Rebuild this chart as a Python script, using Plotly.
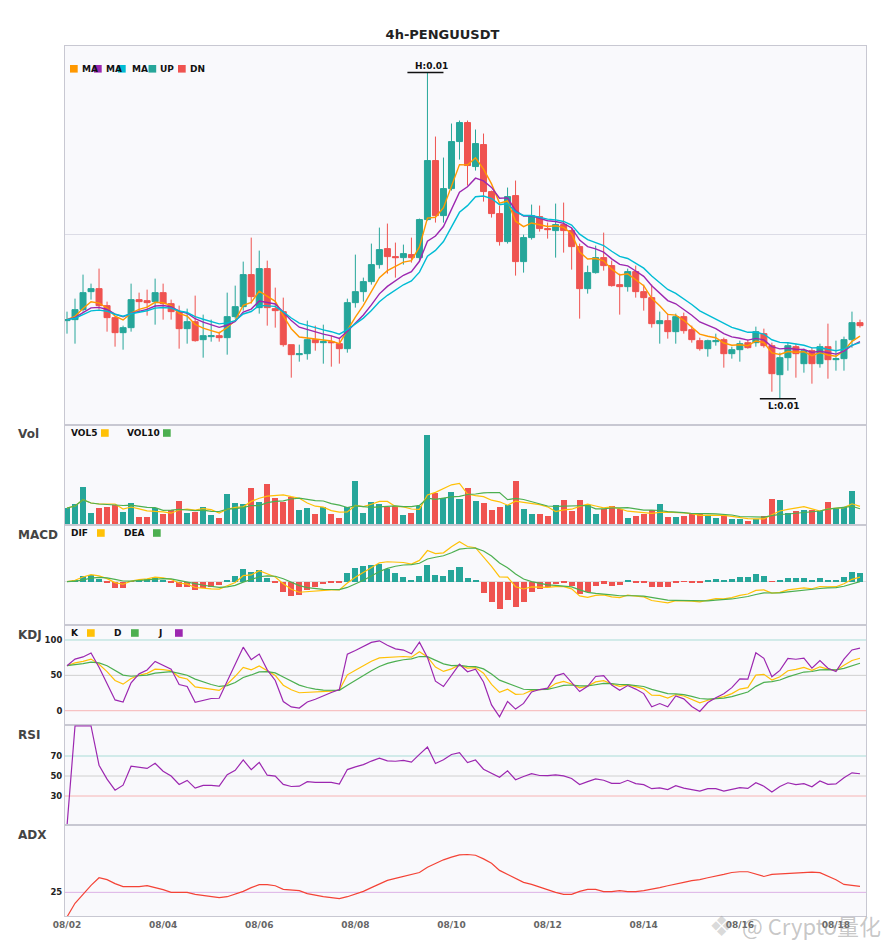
import pandas as pd
import plotly.graph_objects as go
from plotly.subplots import make_subplots

symbol = "PENGUUSDT"
interval = "4h"
start = "2025-08-02 00:00"

# 4h candles (USDT)
opens = [0.01114, 0.01115, 0.01125, 0.01143, 0.01146, 0.01129, 0.01117, 0.01102, 0.01107, 0.01135,
         0.01134, 0.01133, 0.01142, 0.01131, 0.01123, 0.01106, 0.01113, 0.01095, 0.01098, 0.01099,
         0.01097, 0.01118, 0.01128, 0.01160, 0.01127, 0.01166, 0.01126, 0.01123, 0.01090, 0.01080,
         0.01081, 0.01095, 0.01092, 0.01093, 0.01091, 0.01086, 0.01132, 0.01143, 0.01153, 0.01170,
         0.01186, 0.01178, 0.01177, 0.01180, 0.01177, 0.01215, 0.01274, 0.01219, 0.01246, 0.01293,
         0.01312, 0.01268, 0.01290, 0.01243, 0.01221, 0.01193, 0.01239, 0.01173, 0.01197, 0.01218,
         0.01206, 0.01204, 0.01210, 0.01204, 0.01188, 0.01146, 0.01162, 0.01177, 0.01169, 0.01150,
         0.01148, 0.01163, 0.01143, 0.01137, 0.01111, 0.01114, 0.01103, 0.01118, 0.01105, 0.01094,
         0.01086, 0.01093, 0.01095, 0.01081, 0.01085, 0.01092, 0.01092, 0.01101, 0.01089, 0.01060,
         0.01077, 0.01088, 0.01071, 0.01084, 0.01071, 0.01088, 0.01075, 0.01076, 0.01095, 0.01112]
highs = [0.01123, 0.01136, 0.01160, 0.01151, 0.01166, 0.01133, 0.01118, 0.01109, 0.01151, 0.01142,
         0.01145, 0.01156, 0.01151, 0.01135, 0.01129, 0.01126, 0.01139, 0.01120, 0.01115, 0.01103,
         0.01142, 0.01149, 0.01173, 0.01197, 0.01184, 0.01174, 0.01147, 0.01137, 0.01090, 0.01090,
         0.01114, 0.01109, 0.01110, 0.01099, 0.01097, 0.01136, 0.01180, 0.01157, 0.01191, 0.01207,
         0.01211, 0.01192, 0.01190, 0.01197, 0.01216, 0.01362, 0.01298, 0.01277, 0.01311, 0.01314,
         0.01314, 0.01305, 0.01301, 0.01244, 0.01229, 0.01247, 0.01254, 0.01200, 0.01230, 0.01229,
         0.01212, 0.01231, 0.01232, 0.01207, 0.01191, 0.01169, 0.01189, 0.01202, 0.01174, 0.01161,
         0.01166, 0.01169, 0.01150, 0.01150, 0.01123, 0.01121, 0.01121, 0.01122, 0.01109, 0.01097,
         0.01095, 0.01101, 0.01097, 0.01088, 0.01094, 0.01095, 0.01108, 0.01106, 0.01092, 0.01082,
         0.01092, 0.01091, 0.01086, 0.01087, 0.01091, 0.01111, 0.01094, 0.01098, 0.01123, 0.01115]
lows = [0.01101, 0.01091, 0.01123, 0.01135, 0.01125, 0.01103, 0.01088, 0.01085, 0.01103, 0.01122,
        0.01119, 0.01110, 0.01115, 0.01115, 0.01086, 0.01091, 0.01093, 0.01077, 0.01093, 0.01093,
        0.01080, 0.01116, 0.01124, 0.01131, 0.01121, 0.01109, 0.01107, 0.01088, 0.01057, 0.01073,
        0.01075, 0.01084, 0.01071, 0.01068, 0.01071, 0.01082, 0.01127, 0.01133, 0.01150, 0.01166,
        0.01161, 0.01157, 0.01170, 0.01172, 0.01174, 0.01214, 0.01212, 0.01212, 0.01244, 0.01275,
        0.01249, 0.01264, 0.01233, 0.01217, 0.01189, 0.01191, 0.01159, 0.01162, 0.01195, 0.01203,
        0.01196, 0.01177, 0.01182, 0.01165, 0.01116, 0.01141, 0.01161, 0.01164, 0.01148, 0.01120,
        0.01143, 0.01137, 0.01124, 0.01107, 0.01091, 0.01096, 0.01091, 0.01101, 0.01092, 0.01084,
        0.01078, 0.01089, 0.01067, 0.01076, 0.01073, 0.01086, 0.01088, 0.01087, 0.01043, 0.01036,
        0.01064, 0.01057, 0.01062, 0.01051, 0.01067, 0.01056, 0.01064, 0.01064, 0.01087, 0.01107]
closes = [0.01115, 0.01125, 0.01142, 0.01146, 0.01129, 0.01117, 0.01102, 0.01107, 0.01135, 0.01133,
          0.01132, 0.01142, 0.01131, 0.01123, 0.01106, 0.01113, 0.01094, 0.01099, 0.01099, 0.01097,
          0.01118, 0.01128, 0.01160, 0.01138, 0.01166, 0.01127, 0.01124, 0.01090, 0.01080, 0.01081,
          0.01095, 0.01092, 0.01093, 0.01092, 0.01086, 0.01132, 0.01143, 0.01153, 0.01170, 0.01185,
          0.01178, 0.01177, 0.01181, 0.01177, 0.01215, 0.01274, 0.01219, 0.01246, 0.01293, 0.01312,
          0.01269, 0.01291, 0.01243, 0.01221, 0.01193, 0.01238, 0.01173, 0.01197, 0.01219, 0.01206,
          0.01205, 0.01210, 0.01204, 0.01188, 0.01146, 0.01162, 0.01177, 0.01169, 0.01149, 0.01148,
          0.01163, 0.01143, 0.01137, 0.01111, 0.01114, 0.01103, 0.01118, 0.01104, 0.01095, 0.01086,
          0.01094, 0.01094, 0.01081, 0.01085, 0.01091, 0.01087, 0.01103, 0.01089, 0.01061, 0.01077,
          0.01089, 0.01081, 0.01084, 0.01071, 0.01088, 0.01075, 0.01076, 0.01095, 0.01112, 0.01109]
# volume, millions
volume = [170, 210, 380, 120, 170, 180, 200, 130, 220, 80,
          80, 170, 110, 150, 240, 120, 130, 180, 100, 70,
          310, 220, 210, 370, 230, 410, 270, 230, 280, 150,
          170, 110, 180, 110, 70, 180, 440, 120, 230, 210,
          180, 190, 100, 120, 190, 900, 320, 270, 330, 260,
          370, 240, 220, 150, 180, 200, 440, 160, 110, 110,
          90, 200, 250, 140, 250, 200, 110, 160, 190, 160,
          70, 90, 110, 150, 210, 80, 80, 90, 110, 120,
          90, 70, 90, 60, 60, 40, 60, 90, 260, 250,
          120, 140, 150, 150, 140, 230, 170, 180, 340, 10]
# ADX as drawn on the chart
adx = [12.0, 19.2, 23.9, 28.7, 32.7, 31.7, 29.6, 28.0, 28.0, 28.0,
       28.5, 27.5, 26.4, 25.0, 25.0, 25.0, 23.9, 23.4, 22.9, 22.2,
       22.7, 23.9, 25.5, 27.5, 29.1, 29.1, 28.5, 26.6, 26.4, 25.9,
       24.3, 23.3, 22.7, 22.2, 21.7, 22.7, 23.9, 25.5, 27.5, 29.6,
       31.3, 32.4, 33.4, 34.5, 35.5, 38.3, 40.4, 42.2, 43.6, 44.8,
       45.0, 44.6, 42.7, 40.4, 36.6, 34.5, 32.4, 30.3, 29.2, 27.8,
       26.1, 25.0, 23.9, 23.9, 25.5, 26.6, 26.6, 25.4, 25.4, 25.9,
       25.4, 25.4, 25.9, 26.6, 27.5, 28.5, 29.6, 30.3, 31.2, 31.7,
       32.7, 33.4, 34.5, 35.5, 35.9, 35.9, 34.5, 33.4, 34.5, 34.8,
       34.8, 35.2, 35.4, 35.7, 35.4, 33.4, 31.7, 29.2, 28.7, 28.2]

UP = "#26a69a"
DN = "#ef5350"
BORDER = "#c8c8d2"
FONT = "DejaVu Sans"

df = pd.DataFrame({"open": opens, "high": highs, "low": lows, "close": closes, "volume": volume},
                  index=pd.date_range(start, periods=len(closes), freq="4h"))
x = df.index
c = df["close"]

ma1 = c.ewm(span=5, adjust=False).mean()
ma2 = c.ewm(span=9, adjust=False).mean()
ma3 = c.ewm(span=13, adjust=False).mean()

vol5 = df["volume"].rolling(5, min_periods=1).mean()
vol10 = df["volume"].rolling(10, min_periods=1).mean()

# MACD(6, 13, 5)
dif = c.ewm(span=6, adjust=False).mean() - c.ewm(span=13, adjust=False).mean()
dea = dif.ewm(span=5, adjust=False).mean()
hist = 2 * (dif - dea)

low9 = df["low"].rolling(9, min_periods=1).min()
high9 = df["high"].rolling(9, min_periods=1).max()
rsv = (c - low9) / (high9 - low9) * 100
k = rsv.ewm(com=2, adjust=False).mean()
d = k.ewm(com=2, adjust=False).mean()
j = 3 * k - 2 * d

delta = c.diff().fillna(0)
gain = delta.clip(lower=0).ewm(alpha=1 / 14, adjust=False).mean()
loss = (-delta.clip(upper=0)).ewm(alpha=1 / 14, adjust=False).mean()
rsi = (100 * gain / (gain + loss)).fillna(0)

up_mask = df["close"] >= df["open"]
bar_w = 3 * 3600 * 1000  # 3h in ms

fig = make_subplots(rows=6, cols=1, shared_xaxes=True, vertical_spacing=0,
                    row_heights=[379, 100, 100, 100, 100, 91])

fig.add_trace(go.Candlestick(x=x, open=df["open"], high=df["high"], low=df["low"], close=c,
                             increasing=dict(line=dict(color=UP, width=1), fillcolor=UP),
                             decreasing=dict(line=dict(color=DN, width=1), fillcolor=DN),
                             whiskerwidth=0, name="K"), row=1, col=1)
for s, col in [(ma1, "#ff9800"), (ma2, "#9c27b0"), (ma3, "#00bcd4")]:
    fig.add_trace(go.Scatter(x=x, y=s, mode="lines", line=dict(color=col, width=1.4)), row=1, col=1)

fig.add_trace(go.Bar(x=x, y=df["volume"], width=bar_w,
                     marker=dict(color=[UP if u else DN for u in up_mask], line_width=0)), row=2, col=1)
fig.add_trace(go.Scatter(x=x, y=vol5, mode="lines", line=dict(color="#ffc107", width=1.2)), row=2, col=1)
fig.add_trace(go.Scatter(x=x, y=vol10, mode="lines", line=dict(color="#4caf50", width=1.2)), row=2, col=1)

fig.add_trace(go.Bar(x=x, y=hist, width=bar_w,
                     marker=dict(color=[UP if h >= 0 else DN for h in hist], line_width=0)), row=3, col=1)
fig.add_trace(go.Scatter(x=x, y=dif, mode="lines", line=dict(color="#ffc107", width=1.2)), row=3, col=1)
fig.add_trace(go.Scatter(x=x, y=dea, mode="lines", line=dict(color="#4caf50", width=1.2)), row=3, col=1)

fig.add_trace(go.Scatter(x=x, y=k, mode="lines", line=dict(color="#ffc107", width=1.2)), row=4, col=1)
fig.add_trace(go.Scatter(x=x, y=d, mode="lines", line=dict(color="#4caf50", width=1.2)), row=4, col=1)
fig.add_trace(go.Scatter(x=x, y=j, mode="lines", line=dict(color="#9c27b0", width=1.2)), row=4, col=1)

fig.add_trace(go.Scatter(x=x, y=rsi, mode="lines", line=dict(color="#9c27b0", width=1.2)), row=5, col=1)
fig.add_trace(go.Scatter(x=x, y=adx, mode="lines", line=dict(color="#f44336", width=1.2)), row=6, col=1)

# reference levels
for row, lvl, col in [(4, 100, "#a9dcd7"), (4, 50, "#d0d0d0"), (4, 0, "#f7b4b4"),
                      (5, 70, "#a9dcd7"), (5, 50, "#d0d0d0"), (5, 30, "#f7b4b4"),
                      (6, 25, "#dcb2e6")]:
    fig.add_hline(y=lvl, line_color=col, line_width=1, layer="below", row=row, col=1)

# high / low markers
hi_i = int(df["high"].values.argmax())
lo_i = int(df["low"].values.argmin())
hi_t, lo_t = x[hi_i], x[lo_i]
hi_v, lo_v = df["high"].iloc[hi_i], df["low"].iloc[lo_i]
for t, v in [(hi_t, hi_v), (lo_t, lo_v)]:
    fig.add_shape(type="line", x0=t - pd.Timedelta(hours=10), x1=t + pd.Timedelta(hours=8),
                  y0=v, y1=v, line=dict(color="#111", width=1.5), row=1, col=1)
fig.add_annotation(x=hi_t + pd.Timedelta(hours=2), y=hi_v, text=f"H:{hi_v:.2f}", showarrow=False,
                   yanchor="bottom", font=dict(size=9, color="#111", weight="bold"), row=1, col=1)
fig.add_annotation(x=lo_t + pd.Timedelta(hours=2), y=lo_v, text=f"L:{lo_v:.2f}", showarrow=False,
                   yanchor="top", font=dict(size=9, color="#111", weight="bold"), row=1, col=1)

# pixel -> paper helpers for labels
L, R, T, B = 65, 866, 46, 916


def px(xp):
    return (xp - L) / (R - L)


def py(yp):
    return (B - yp) / (B - T)


for name, yp in [("Vol", 434.5), ("MACD", 534.7), ("KDJ", 634.7), ("RSI", 734.7), ("ADX", 834.7)]:
    fig.add_annotation(x=px(16), y=py(yp), xref="paper", yref="paper", text=name, showarrow=False,
                       xanchor="left", yanchor="middle", font=dict(size=12, color="#444", weight="bold"))


def legend_row(items, yc):
    for label, tx, sx, col in items:
        fig.add_annotation(x=px(tx), y=py(yc), xref="paper", yref="paper", text=label, showarrow=False,
                           xanchor="left", yanchor="middle", font=dict(size=9, color="#111", weight="bold"))
        fig.add_shape(type="rect", xref="paper", yref="paper", x0=px(sx), x1=px(sx + 7.7),
                      y0=py(yc + 3.8), y1=py(yc - 3.8), fillcolor=col, line_width=0)


legend_row([("MA", 80, 70, "#ff9800"), ("MA", 104, 94, "#9c27b0"), ("MA", 130, 118, "#00bcd4"),
            ("UP", 158, 148.5, UP), ("DN", 188, 178, DN)], 68.8)
legend_row([("VOL5", 69, 101, "#ffc107"), ("VOL10", 124.5, 163, "#4caf50")], 433)
legend_row([("DIF", 69, 97, "#ffc107"), ("DEA", 122, 153, "#4caf50")], 533)
legend_row([("K", 69, 87, "#ffc107"), ("D", 112, 131, "#4caf50"), ("J", 155.5, 175, "#9c27b0")], 633)

# watermark
fig.add_annotation(x=px(721), y=py(926), xref="paper", yref="paper", text="❖", showarrow=False,
                   xanchor="center", yanchor="middle",
                   font=dict(size=28, color="rgba(150,150,150,0.35)"))
fig.add_annotation(x=px(811), y=py(925), xref="paper", yref="paper", text="@ Crypto量化",
                   showarrow=False, xanchor="center", yanchor="middle",
                   font=dict(size=22, color="rgba(130,130,130,0.45)", family="Noto Sans CJK SC"))

x0 = x[0] - pd.Timedelta(hours=1)
x1 = x[-1] + pd.Timedelta(hours=3)
fig.update_xaxes(range=[x0, x1], showgrid=False, zeroline=False, showline=True, mirror=True,
                 linecolor=BORDER, linewidth=1, ticks="", rangeslider_visible=False)
fig.update_xaxes(showticklabels=True, tickformat="%m/%d", tick0=start,
                 dtick=2 * 86400000, tickfont=dict(size=9, color="#666", weight="bold"), row=6, col=1)
fig.update_yaxes(showline=True, mirror=True, linecolor=BORDER, linewidth=1, zeroline=False,
                 showgrid=False, ticks="", fixedrange=True,
                 tickfont=dict(size=8.5, color="#222", weight="bold"))
fig.update_yaxes(range=[0.010097, 0.013885], tickvals=[0.012], showgrid=True, gridcolor="#dcdce6",
                 showticklabels=False, row=1, col=1)
fig.update_yaxes(range=[0, 1000], showticklabels=False, row=2, col=1)
fig.update_yaxes(range=[-0.000433, 0.000567], showticklabels=False, zeroline=True,
                 zerolinecolor="#dddddd", zerolinewidth=1, row=3, col=1)
fig.update_yaxes(range=[-20.2, 121.2], tickvals=[0, 50, 100], row=4, col=1)
fig.update_yaxes(range=[1, 101], tickvals=[30, 50, 70], row=5, col=1)
fig.update_yaxes(range=[12.5, 60.6], tickvals=[25], row=6, col=1)

fig.update_layout(
    width=885, height=950,
    margin=dict(l=L, r=885 - R, t=T, b=950 - B),
    title=dict(text=f"{interval}-{symbol}", x=0.5, y=1 - 34 / 950, yanchor="middle",
               font=dict(size=13, color="#222", weight="bold")),
    font=dict(family=FONT),
    paper_bgcolor="white", plot_bgcolor="#f9f9fc",
    showlegend=False, boxgap=0.25, boxgroupgap=0, bargap=0,
    hovermode="x",
)

fig.write_html("out.html", config={"displayModeBar": False},
               post_script="document.body.style.margin='0';")
